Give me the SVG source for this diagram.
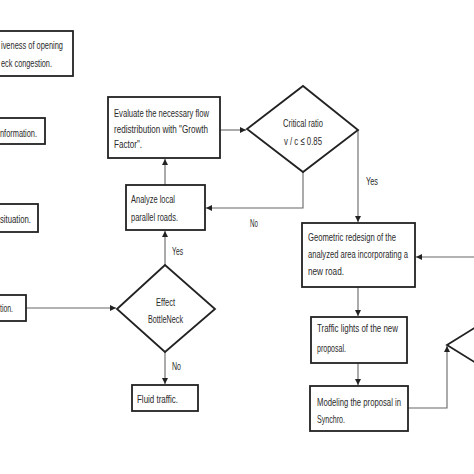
<svg xmlns="http://www.w3.org/2000/svg" width="474" height="474" viewBox="0 0 474 474">
<style>
.box{fill:#fff;stroke:#222;stroke-width:1.8}
.dia{fill:#fff;stroke:#222;stroke-width:1.8}
.t{font-family:"Liberation Sans",Arial,sans-serif;font-size:11.5px;fill:#2a2a2a}
.c{fill:none;stroke:#666;stroke-width:1.1}
</style>
<defs>
<marker id="ah" viewBox="0 0 10 10" refX="10" refY="5" markerWidth="6" markerHeight="6" orient="auto" markerUnits="userSpaceOnUse">
<path d="M0,0 L10,5 L0,10 Z" fill="#222"/>
</marker>
</defs>
<rect width="474" height="474" fill="#fff"/>
<g id="connectors">
<path class="c" d="M26,308 L116,308" marker-end="url(#ah)"/>
<path class="c" d="M220,130 L246,130" marker-end="url(#ah)"/>
<path class="c" d="M165,265 L165,231" marker-end="url(#ah)"/>
<path class="c" d="M165,185 L165,159" marker-end="url(#ah)"/>
<path class="c" d="M303,172 L303,208 L206,208" marker-end="url(#ah)"/>
<path class="c" d="M358,130 L358,222" marker-end="url(#ah)"/>
<path class="c" d="M474,257 L416,257" marker-end="url(#ah)"/>
<path class="c" d="M358,287 L358,316" marker-end="url(#ah)"/>
<path class="c" d="M358,363 L358,385" marker-end="url(#ah)"/>
<path class="c" d="M165,352 L165,384" marker-end="url(#ah)"/>
<path class="c" d="M408,408 L447,408 L447,346" marker-end="url(#ah)"/>
<text class="t" x="250" y="227" textLength="8" lengthAdjust="spacingAndGlyphs">No</text>
<text class="t" x="172" y="255" textLength="11" lengthAdjust="spacingAndGlyphs">Yes</text>
<text class="t" x="172" y="370" textLength="9" lengthAdjust="spacingAndGlyphs">No</text>
<text class="t" x="366" y="185" textLength="12" lengthAdjust="spacingAndGlyphs">Yes</text>
</g>
<g id="box-opening">
<rect class="box" x="-5" y="31" width="78" height="45"/>
<text class="t" x="1" y="49" textLength="62" lengthAdjust="spacingAndGlyphs">iveness of opening</text>
<text class="t" x="1" y="67" textLength="51" lengthAdjust="spacingAndGlyphs">eck congestion.</text>
</g>
<g id="box-information">
<rect class="box" x="-5" y="118" width="50" height="26"/>
<text class="t" x="0" y="137" textLength="37" lengthAdjust="spacingAndGlyphs">nformation.</text>
</g>
<g id="box-situation">
<rect class="box" x="-5" y="204" width="43" height="28"/>
<text class="t" x="0" y="223" textLength="31" lengthAdjust="spacingAndGlyphs">situation.</text>
</g>
<g id="box-tion">
<rect class="box" x="-5" y="295" width="31" height="26"/>
<text class="t" x="0" y="312" textLength="13" lengthAdjust="spacingAndGlyphs">tion.</text>
</g>
<g id="box-evaluate">
<rect class="box" x="108" y="97" width="112" height="61"/>
<text class="t" x="114" y="117" textLength="95" lengthAdjust="spacingAndGlyphs">Evaluate the necessary flow</text>
<text class="t" x="114" y="133" textLength="94" lengthAdjust="spacingAndGlyphs">redistribution with "Growth</text>
<text class="t" x="114" y="148" textLength="28" lengthAdjust="spacingAndGlyphs">Factor".</text>
</g>
<g id="dia-critical">
<path class="dia" d="M247,129 L303,86 L358,130 L303,172 Z"/>
<text class="t" x="283" y="127" textLength="40" lengthAdjust="spacingAndGlyphs">Critical ratio</text>
<text class="t" x="284" y="145" textLength="38" lengthAdjust="spacingAndGlyphs">v / c ≤ 0.85</text>
</g>
<g id="box-analyze">
<rect class="box" x="126" y="185" width="79" height="45"/>
<text class="t" x="131" y="203" textLength="44" lengthAdjust="spacingAndGlyphs">Analyze local</text>
<text class="t" x="131" y="221" textLength="47" lengthAdjust="spacingAndGlyphs">parallel roads.</text>
</g>
<g id="dia-effect">
<path class="dia" d="M117,309 L165,265 L215,309 L165,352 Z"/>
<text class="t" x="156" y="306" textLength="19" lengthAdjust="spacingAndGlyphs">Effect</text>
<text class="t" x="148" y="323" textLength="35" lengthAdjust="spacingAndGlyphs">BottleNeck</text>
</g>
<g id="box-fluid">
<rect class="box" x="132" y="385" width="66" height="26"/>
<text class="t" x="137" y="403" textLength="41" lengthAdjust="spacingAndGlyphs">Fluid traffic.</text>
</g>
<g id="box-geometric">
<rect class="box" x="302" y="223" width="113" height="64"/>
<text class="t" x="308" y="241" textLength="88" lengthAdjust="spacingAndGlyphs">Geometric redesign of the</text>
<text class="t" x="308" y="258" textLength="100" lengthAdjust="spacingAndGlyphs">analyzed area incorporating a</text>
<text class="t" x="308" y="275" textLength="36" lengthAdjust="spacingAndGlyphs">new road.</text>
</g>
<g id="box-traffic">
<rect class="box" x="311" y="317" width="96" height="46"/>
<text class="t" x="317" y="332" textLength="81" lengthAdjust="spacingAndGlyphs">Traffic lights of the new</text>
<text class="t" x="317" y="352" textLength="29" lengthAdjust="spacingAndGlyphs">proposal.</text>
</g>
<g id="box-modeling">
<rect class="box" x="310" y="386" width="98" height="45"/>
<text class="t" x="317" y="406" textLength="84" lengthAdjust="spacingAndGlyphs">Modeling the proposal in</text>
<text class="t" x="317" y="423" textLength="28" lengthAdjust="spacingAndGlyphs">Synchro.</text>
</g>
<g id="dia-right">
<path class="dia" d="M476,327 L447,345 L476,363"/>
</g>
</svg>
